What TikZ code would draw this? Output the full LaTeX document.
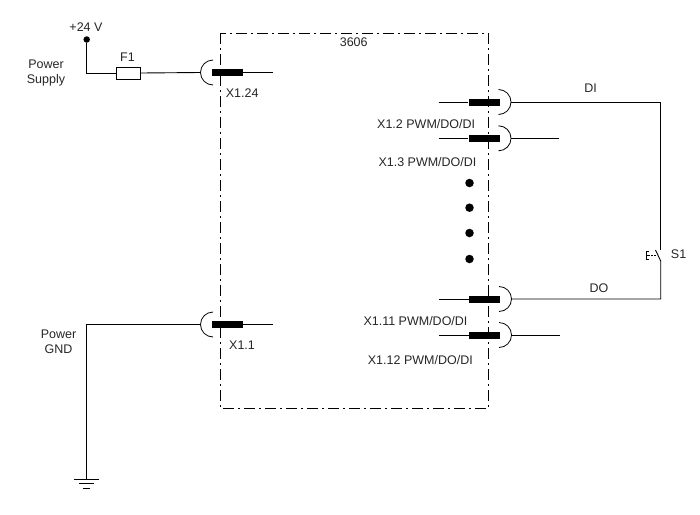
\documentclass[tikz,border=0pt]{standalone}
\usepackage{fontspec}
\setmainfont{Liberation Sans}
\tikzset{
  wire/.style={line width=0.9pt, line cap=butt},
  bar/.style={fill=black, draw=none, minimum width=31pt, minimum height=7pt, inner sep=0pt},
  lbl/.style={inner sep=0pt, text=black!85, font=\fontsize{12.5}{15}\selectfont, align=center},
  bigdot/.style={circle, fill=black, draw=none, minimum size=8.5pt, inner sep=0pt},
  sock/.style={line width=0.8pt},
  box3606/.style={line width=0.8pt, dash pattern=on 11pt off 4pt on 2pt off 4pt}
}
\begin{document}
\begin{tikzpicture}[x=1pt,y=-1pt]
\useasboundingbox (0,0) rectangle (700,514);
\draw[box3606] (220,33) rectangle (488.5,408);
\node[lbl] (t3606) at (353.7,42) {3606};
% supply
\node[bigdot,minimum size=6.5pt] (vcc) at (86.7,39.5) {};
\node[lbl] (t24) at (86,27) {+24 V};
\node[lbl] (tps) at (46,73) {Power\\Supply};
\node[draw,line width=0.8pt,minimum width=24pt,minimum height=12pt,inner sep=0pt] (f1) at (128.5,73) {};
\node[lbl] (tf1) at (127.5,57) {F1};
\coordinate (c1) at (86.7,73);
\draw[wire] (vcc) -- (c1) -- (f1.west);
% X1.24
\node[bar] (b24) at (227.5,72.5) {};
\coordinate (a24) at (200.5,72.5);
\coordinate (e24) at (272.5,72.5);
\draw[wire] (f1.east) -- (a24);
\draw[wire] (b24) -- (e24);
\draw[sock] (213,60) arc[start angle=270,end angle=90,radius=12.5];
\node[lbl,anchor=west] (t24b) at (225.7,93.3) {X1.24};
% X1.1
\node[bar] (b1) at (227.5,324.5) {};
\coordinate (a1) at (200.5,324.5);
\coordinate (e1) at (272.5,324.5);
\coordinate (g1) at (86.7,324.5);
\coordinate (g2) at (86.7,479);
\draw[wire] (a1) -- (g1) -- (g2);
\draw[wire] (b1) -- (e1);
\draw[sock] (213,312) arc[start angle=270,end angle=90,radius=12.5];
\node[lbl] (tg) at (58.5,341.5) {Power\\GND};
\node[lbl,anchor=west] (t1) at (229,345.5) {X1.1};
\draw[wire] (74,479) -- (99,479) (79,483.5) -- (94,483.5) (83,488) -- (90,488);
% right connectors
\node[bar] (b2) at (484,102) {};
\node[bar] (b3) at (484,138.3) {};
\node[bar] (b11) at (484.5,299) {};
\node[bar] (b12) at (484.5,335) {};
\coordinate (l2) at (438.5,102);
\coordinate (l3) at (438.5,138.3);
\coordinate (l11) at (439,299);
\coordinate (l12) at (439,335);
\draw[wire] (l2) -- (b2);
\draw[wire] (l3) -- (b3);
\draw[wire] (l11) -- (b11);
\draw[wire] (l12) -- (b12);
\draw[sock] (498.5,89.5) arc[start angle=-90,end angle=90,radius=12.5];
\draw[sock] (498.5,125.8) arc[start angle=-90,end angle=90,radius=12.5];
\draw[sock] (499,286.5) arc[start angle=-90,end angle=90,radius=12.5];
\draw[sock] (499,322.5) arc[start angle=-90,end angle=90,radius=12.5];
\coordinate (r2) at (511,102);
\coordinate (r3) at (511,138.3);
\coordinate (e3) at (559,138.3);
\coordinate (r11) at (511.5,299);
\coordinate (r12) at (511.5,335);
\coordinate (e12) at (560,335);
\coordinate (sw1) at (660.7,102);
\coordinate (sw2) at (660.7,249.5);
\coordinate (sw3) at (660.7,261);
\coordinate (sw4) at (660.7,299);
\coordinate (swb) at (655.5,250);
\draw[wire] (r2) -- (sw1) -- (sw2);
\draw[wire] (r3) -- (e3);
\draw[wire] (r11) -- (sw4) -- (sw3) -- (swb);
\draw[wire] (r12) -- (e12);
% switch actuator
\draw[line width=0.6pt, dash pattern=on 3.5pt off 1.5pt on 1.5pt off 1.5pt on 1.5pt] (646,255) -- (656,255);
\draw[line width=0.6pt] (649,251) -- (646,251) -- (646,259) -- (649,259);
\node[lbl,anchor=west] (ts1) at (670.7,254) {S1};
\node[lbl] (tdi) at (590.5,87.7) {DI};
\node[lbl] (tdo) at (599,288) {DO};
\node[lbl,anchor=west] (t2) at (377,123.7) {X1.2 PWM/DO/DI};
\node[lbl,anchor=west] (t3) at (378.3,162) {X1.3 PWM/DO/DI};
\node[lbl,anchor=west] (t11) at (363.3,320.7) {X1.11 PWM/DO/DI};
\node[lbl,anchor=west] (t12) at (367.7,360) {X1.12 PWM/DO/DI};
\node[bigdot] (d1) at (469.5,183) {};
\node[bigdot] (d2) at (469.5,207.7) {};
\node[bigdot] (d3) at (469.5,233) {};
\node[bigdot] (d4) at (469.5,259) {};
\end{tikzpicture}
\end{document}
